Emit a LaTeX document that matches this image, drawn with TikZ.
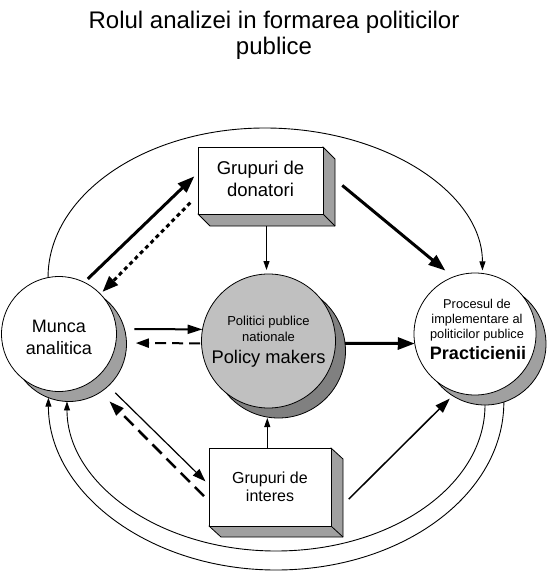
\documentclass[tikz,border=0pt]{standalone}
\usepackage{fontspec}
\setmainfont{Liberation Sans}
\usetikzlibrary{arrows.meta,calc,backgrounds}
\definecolor{polfill}{RGB}{192,192,192}
\definecolor{polshade}{RGB}{128,128,128}
\definecolor{shade}{RGB}{160,160,160}
\begin{document}
\begin{tikzpicture}[x=1pt,y=-1pt,
  circ/.style={circle,draw,line width=0.8pt,inner sep=0pt,outer sep=0pt},
  box/.style={rectangle,draw,fill=white,line width=0.8pt,inner sep=0pt,outer sep=0pt},
  depth/.style={fill=shade,draw,line width=0.8pt,line join=round},
  lbl/.style={anchor=base,inner sep=0pt},
  arthin/.style={line width=0.9pt,-{Triangle[length=9pt,width=6pt]}},
  arthick/.style={line width=3pt,-{Triangle[length=17pt,width=12pt]}},
  armid/.style={line width=2pt,-{Triangle[length=15pt,width=9pt]}},
  armidb/.style={line width=1.5pt,-{Triangle[length=15pt,width=10pt]}},
  arslim/.style={line width=1.2pt,-{Triangle[length=13pt,width=9pt]}},
  ardash/.style={line width=2pt,dash pattern=on 11pt off 6pt,-{Triangle[length=13pt,width=9pt]}},
  ardot/.style={line width=3pt,dash pattern=on 4pt off 3.5pt,-{Triangle[length=16pt,width=12pt]}},
  ardashb/.style={line width=2.5pt,dash pattern=on 13pt off 7pt,-{Triangle[length=15pt,width=10pt]}}
]
\useasboundingbox (0,0) rectangle (547,572);

% title
\node[lbl,font=\fontsize{24}{28}\selectfont] (t1) at (274,28.3) {Rolul analizei in formarea politicilor};
\node[lbl,font=\fontsize{24}{28}\selectfont] (t2) at (274,55) {publice};

% circles with shadows
\node[circ,fill=shade,minimum size=115pt] (munsh) at (69,344) {};
\node[circ,fill=white,minimum size=115pt] (munca) at (59,334) {};
\node[circ,fill=polshade,minimum size=134pt] (polsh) at (278.5,351) {};
\node[circ,fill=polfill,minimum size=134pt] (pol) at (268.5,341) {};
\node[circ,fill=shade,minimum size=122pt] (pracsh) at (485,344) {};
\node[circ,fill=white,minimum size=122pt] (prac) at (475,334) {};

% boxes
\node[box,minimum width=125pt,minimum height=67pt] (don) at (260.5,180.5) {};
\node[box,minimum width=122pt,minimum height=78pt] (int) at (270,487) {};
\begin{scope}[on background layer]
\path[depth] (don.north east) -- ++(12,12) -- ($(don.south east)+(12,12)$) -- ($(don.south west)+(12,12)$) -- (don.south west) -- cycle;
\path[depth] (int.north east) -- ++(12,11) -- ($(int.south east)+(12,11)$) -- ($(int.south west)+(12,11)$) -- (int.south west) -- cycle;
\end{scope}
\draw[line width=0.8pt] (don.south east) -- ++(12,12);
\draw[line width=0.8pt] (int.south east) -- ++(12,11);

% texts
\node[lbl,font=\fontsize{18}{22}\selectfont] (m1) at (59,332) {Munca};
\node[lbl,font=\fontsize{18}{22}\selectfont] (m2) at (59,354) {analitica};
\node[lbl,font=\fontsize{13}{15}\selectfont] (p1) at (268.5,325) {Politici publice};
\node[lbl,font=\fontsize{13}{15}\selectfont] (p2) at (268.5,341.7) {nationale};
\node[lbl,font=\fontsize{18.3}{22}\selectfont] (p3) at (268.5,363.3) {Policy makers};
\node[lbl,font=\fontsize{12.8}{15}\selectfont] (r1) at (477,308) {Procesul de};
\node[lbl,font=\fontsize{12.8}{15}\selectfont] (r2) at (477,323) {implementare al};
\node[lbl,font=\fontsize{12.8}{15}\selectfont] (r3) at (477,338) {politicilor publice};
\node[lbl,font=\fontsize{18}{22}\selectfont\bfseries] (r4) at (478,359) {Practicienii};
\node[lbl,font=\fontsize{18.5}{22}\selectfont] (d1) at (260.5,175) {Grupuri de};
\node[lbl,font=\fontsize{18.5}{22}\selectfont] (d2) at (260.5,196) {donatori};
\node[lbl,font=\fontsize{16}{20}\selectfont] (i1) at (270,483.3) {Grupuri de};
\node[lbl,font=\fontsize{16}{20}\selectfont] (i2) at (270,501.7) {interes};

% outer arcs
\coordinate (arctop) at (265,128);
\coordinate (ibot) at (276,551);
\coordinate (obot) at (276,570);
\draw[arthin,shorten >=3pt] (munca.101) .. controls +(0,-82.6) and +(-119.8,0) .. (arctop) .. controls +(120,0) and +(0,-80.4) .. (prac.83);
\draw[arthin] (pracsh.270) .. controls +(0,80.6) and +(115.4,0) .. (ibot) .. controls +(-115.4,0) and +(0,82.6) .. (munsh.-92);
\draw[arthin] (pracsh.-72) .. controls +(0,92.8) and +(125.9,0) .. (obot) .. controls +(-125.9,0) and +(0,95.2) .. (munsh.-111);

% straight connectors
\draw[arthick,shorten <=5pt,shorten >=5pt] (munca.64) -- (don.173);
\draw[ardot,shorten <=11pt,shorten >=3pt] (don.193) -- (munca.44);
\coordinate (donb) at ($(don.south)+(6,12)$);
\draw[arthin,shorten >=4pt] (donb) -- (donb |- pol.north);
\draw[arthick,shorten <=25pt,shorten >=10pt] (don.10) -- (prac.111);
\draw[armid,shorten <=18pt] (munca.5) -- (pol.170);
\draw[ardash,shorten <=1.5pt,shorten >=20pt] (pol.182) -- (munca.-9);
\draw[arthick,shorten <=9.5pt] (pol.-2) -- (prac.189);
\draw[arslim,shorten <=24pt,shorten >=5pt] (munca.-47) -- (int.178);
\draw[ardashb,shorten <=7pt,shorten >=27pt] (int.193) -- (munca.-57);
\draw[arthin] (int.94) -- (int.94 |- polsh.south);
\draw[armidb,shorten <=25pt,shorten >=4pt] (int.-26) -- (pracsh.-122);
\end{tikzpicture}
\end{document}
